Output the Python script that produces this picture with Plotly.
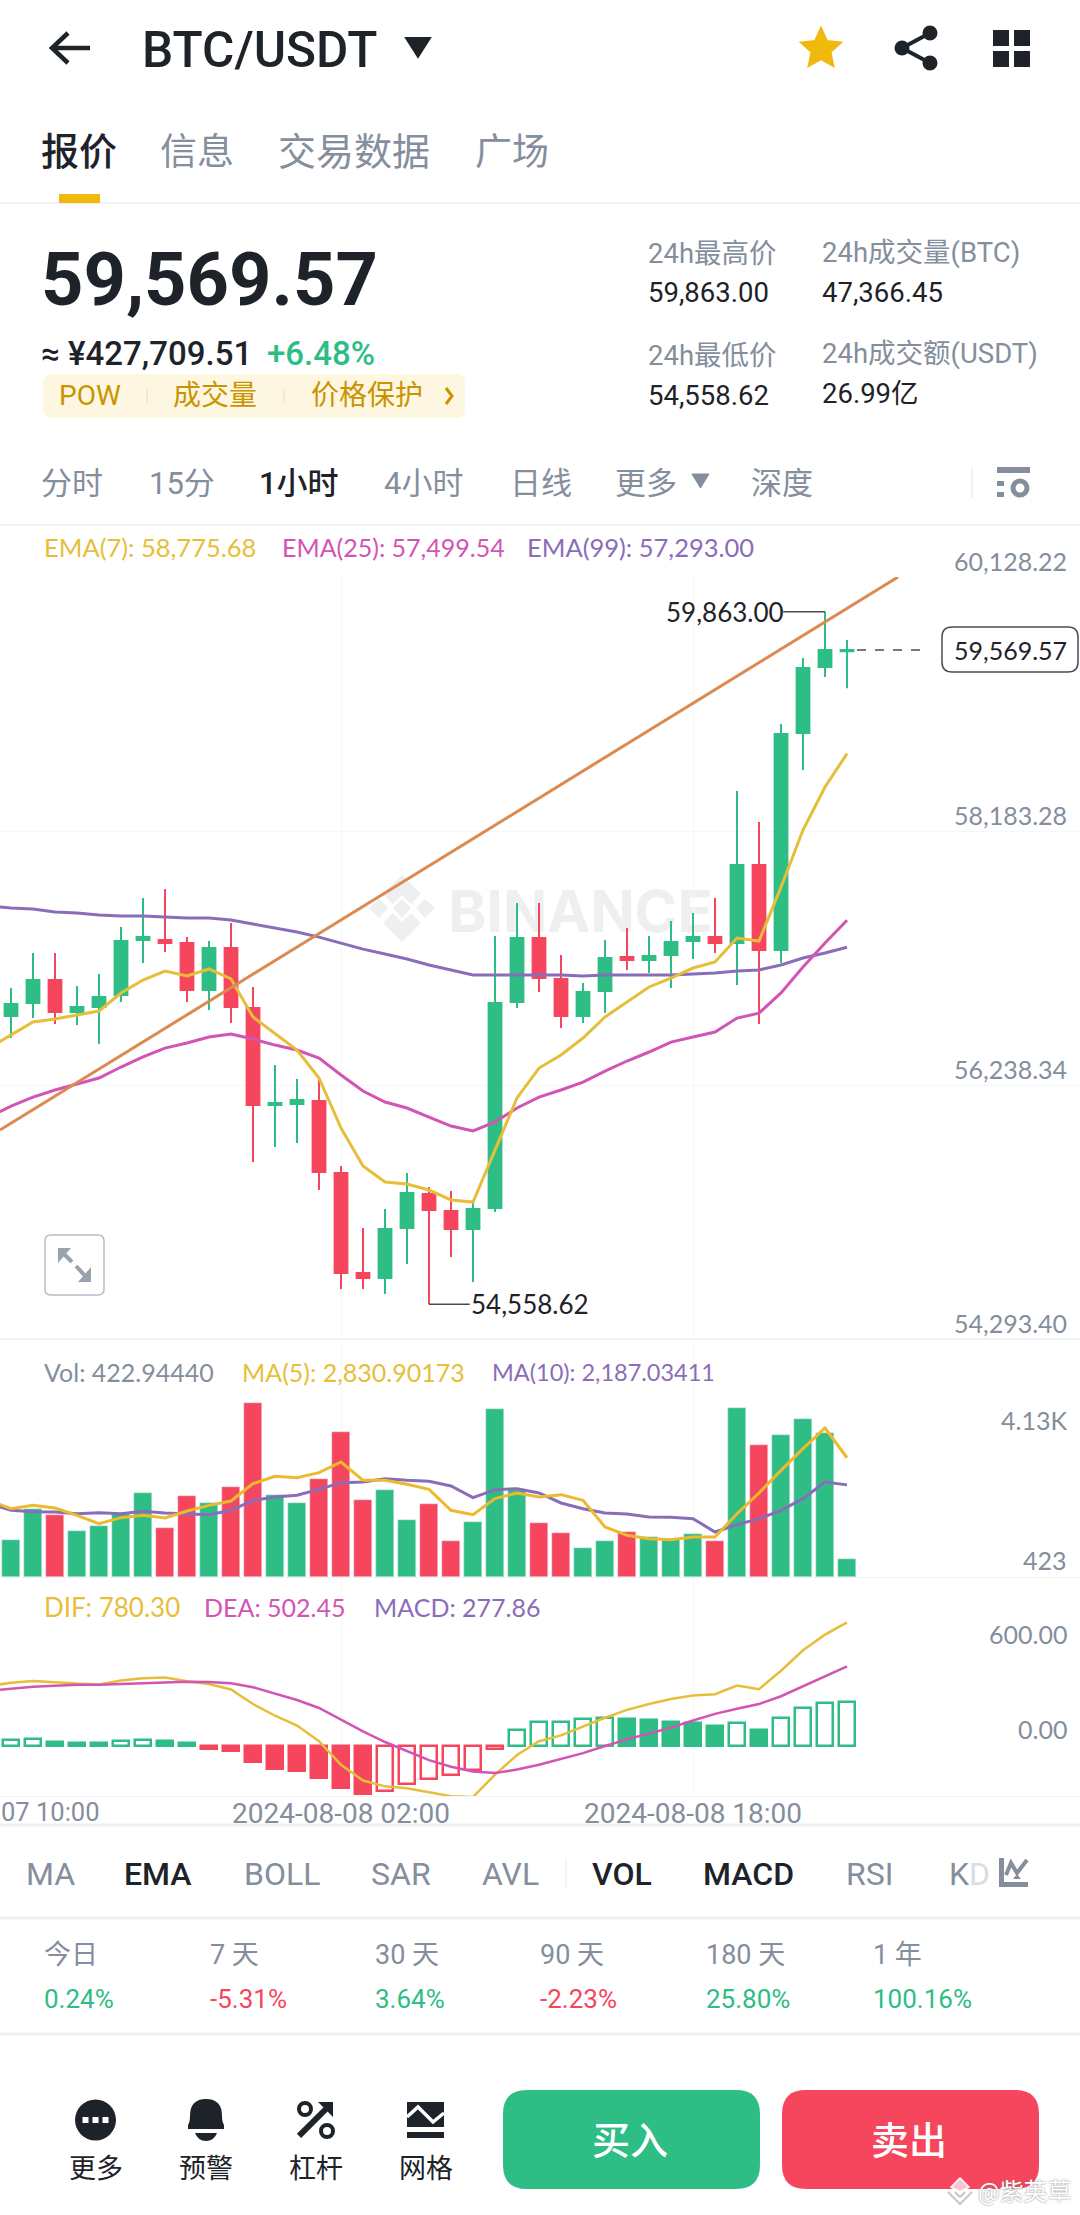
import math
import plotly.graph_objects as go
from plotly.subplots import make_subplots

# -----------------------------
# DATA
# -----------------------------
opens = [56767, 56866, 57042, 56797, 56836, 56928, 57349, 57349, 57326, 56966,
         57287, 56828, 56085, 56093, 56116, 55564, 54799, 54760, 55143, 55403,
         55273, 55136, 55296, 56874, 57364, 57050, 56767, 56958, 57219, 57196,
         57234, 57341, 57372, 57326, 57923, 57272, 58933, 59439, 59560]
highs = [56981, 57249, 57249, 56996, 57088, 57448, 57670, 57739, 57372, 57341,
         57479, 56989, 56391, 56284, 56292, 55618, 55143, 55289, 55564, 55457,
         55427, 55342, 57379, 57632, 57632, 57234, 57019, 57349, 57441, 57379,
         57494, 57555, 57670, 58489, 58252, 59002, 59508, 59863.00, 59645]
lows = [56598, 56751, 56705, 56698, 56552, 56874, 57173, 57257, 56874, 56813,
        56713, 55649, 55763, 55794, 55434, 54676, 54676, 54638, 54868, 54558.62,
        54921, 54730, 55266, 56828, 56950, 56675, 56713, 56790, 57119, 57096,
        56981, 57203, 57249, 57004, 56705, 57172, 58650, 59362, 59277]
closes = [56858, 57042, 56797, 56836, 56912, 57341, 57372, 57326, 56966, 57287,
          56836, 56085, 56100, 56123, 55572, 54799, 54760, 55136, 55411, 55281,
          55136, 55289, 56866, 57364, 57057, 56767, 56950, 57211, 57196, 57226,
          57333, 57372, 57326, 57923, 57272, 58926, 59431, 59569, 59569.57]

# line series start one candle left of the screen
ema7 = [56521, 56621, 56721, 56744, 56774, 56805, 56943, 57042, 57111, 57073,
        57127, 57050, 56759, 56636, 56506, 56292, 55909, 55618, 55495, 55480,
        55434, 55358, 55342, 55740, 56139, 56368, 56468, 56598, 56759, 56874,
        56989, 57057, 57134, 57180, 57364, 57341, 57754, 58191, 58520, 58775.68]
ema25 = [55993, 56077, 56146, 56200, 56246, 56292, 56376, 56453, 56521, 56560,
         56606, 56629, 56590, 56544, 56506, 56445, 56315, 56192, 56108, 56062,
         55993, 55924, 55886, 55955, 56062, 56146, 56200, 56261, 56345, 56422,
         56491, 56567, 56606, 56644, 56751, 56789, 56943, 57142, 57326, 57499.54]
ema99 = [57609, 57593, 57586, 57563, 57555, 57540, 57532, 57532, 57525, 57517,
         57517, 57502, 57471, 57440, 57410, 57371, 57325, 57279, 57241, 57203,
         57157, 57119, 57081, 57081, 57081, 57081, 57081, 57073, 57081, 57081,
         57081, 57081, 57088, 57096, 57111, 57119, 57157, 57211, 57249, 57293.00]
trend_x = [-0.5, 40.32]
trend_y = [55894, 60128.22]

volume = [870, 1622, 1464, 1092, 1211, 1488, 2002, 1171, 1915, 1765,
          2137, 4130, 1939, 1765, 2334, 3442, 1820, 2073, 1361, 1741,
          855, 1306, 3988, 2057, 1274, 1052, 696, 855, 1068, 950,
          894, 1021, 855, 4012, 3134, 3363, 3751, 3426, 422.94]
ma5 = [1820, 1622, 1701, 1638, 1464, 1266, 1409, 1464, 1401, 1567,
       1701, 1804, 2216, 2390, 2358, 2477, 2730, 2295, 2295, 2200,
       2081, 1583, 1480, 1860, 1994, 1899, 1955, 1820, 1187, 989,
       910, 886, 950, 950, 1503, 1994, 2532, 3047, 3537, 2830.90]
ma10 = [1741, 1583, 1551, 1543, 1503, 1527, 1503, 1559, 1519, 1503,
        1480, 1583, 1820, 1899, 1939, 2081, 2239, 2255, 2334, 2295,
        2271, 2160, 1883, 2073, 2097, 1994, 1757, 1622, 1519, 1496,
        1424, 1416, 1385, 1068, 1242, 1385, 1583, 1860, 2255, 2187.03]

hist = [35, 47, 25, 17, 17, 30, 40, 30, 17, -20,
        -32, -101, -143, -161, -205, -267, -300, -285, -238, -208,
        -181, -149, -22, 104, 149, 154, 168, 178, 171, 164,
        154, 144, 124, 144, 99, 179, 243, 272, 277.86]
dif = [379, 399, 411, 401, 394, 389, 413, 428, 433, 409,
       391, 357, 265, 191, 129, 30, -119, -218, -255, -267,
       -292, -317, -322, -181, -57, 30, 67, 124, 178, 228,
       265, 297, 319, 327, 381, 359, 475, 604, 703, 780.30]
dea = [349, 361, 374, 381, 386, 386, 391, 399, 404, 406,
       404, 396, 371, 332, 290, 240, 166, 92, 25, -32,
       -89, -131, -161, -171, -149, -119, -82, -45, 0, 42,
       79, 116, 161, 203, 235, 265, 314, 376, 438, 502.45]

price_ticks = [60128.22, 58183.28, 56238.34, 54293.40]
price_tick_text = ["60,128.22", "58,183.28", "56,238.34", "54,293.40"]
vol_ticks = [4130, 423]
vol_tick_text = ["4.13K", "423"]
macd_ticks = [600, 0]
macd_tick_text = ["600.00", "0.00"]
time_ticks = [15, 31]
time_tick_text = ["2024-08-08 02:00", "2024-08-08 18:00"]

periods = ["今日", "7 天", "30 天", "90 天", "180 天", "1 年"]
period_changes = ["0.24%", "-5.31%", "3.64%", "-2.23%", "25.80%", "100.16%"]
intervals = ["分时", "15分", "1小时", "4小时", "日线", "更多", "深度"]
indicators = ["MA", "EMA", "BOLL", "SAR", "AVL", "VOL", "MACD", "RSI"]
tools = ["更多", "预警", "杠杆", "网格"]

# -----------------------------
# COLOURS / PAGE GEOMETRY
# -----------------------------
W, H = 1080, 2215
GREEN = "#2EBD85"
RED = "#F6465D"
GOLD = "#F0B90B"
DARK = "#1E2329"
GRAY = "#848E9C"
YELLOW = "#E6BE3A"
MAGENTA = "#D254B4"
PURPLE = "#8A6DB8"
ORANGE = "#DB8A52"
LINE = "#F1F2F4"
FONT = "Roboto, 'Noto Sans CJK SC'"
CHART_FONT = "Lato, 'Noto Sans CJK SC'"

candle_x = list(range(len(closes)))
line_x = list(range(-1, len(closes)))


def fx(x):
    return x / W


def fy(y):
    return 1 - y / H


def domain(top, bottom):
    return [fy(bottom), fy(top)]


annotations = []
shapes = []


def text(s, x, y, size, color=DARK, anchor="left", family=FONT, weight=400, shadow=None):
    # annotations sit about 2px inside their anchor
    if anchor == "left":
        x -= 2
    font = dict(size=size, color=color, family=family, weight=weight)
    if shadow:
        font["shadow"] = shadow
    annotations.append(dict(text=s, x=fx(x), y=fy(y), xref="paper", yref="paper", showarrow=False,
                            xanchor=anchor, yanchor="middle", borderpad=0, font=font))


def axis_label(s, value, yref, shift, size=25, color=GRAY):
    annotations.append(dict(text=s, x=fx(1068), y=value, xref="paper", yref=yref, showarrow=False,
                            xanchor="right", yanchor="middle", yshift=shift, borderpad=0,
                            font=dict(size=size, color=color, family=CHART_FONT)))


def hline(y, color=LINE, width=2, x0=0, x1=W):
    shapes.append(dict(type="line", xref="paper", yref="paper", x0=fx(x0), x1=fx(x1), y0=fy(y), y1=fy(y),
                       line=dict(color=color, width=width), layer="below"))


def rect(x0, y0, x1, y1, color, layer="above"):
    shapes.append(dict(type="rect", xref="paper", yref="paper", x0=fx(x0), x1=fx(x1), y0=fy(y0), y1=fy(y1),
                       fillcolor=color, line=dict(width=0), layer=layer))


def circle(cx, cy, r, color, line_width=0, fill=True):
    shapes.append(dict(type="circle", xref="paper", yref="paper",
                       x0=fx(cx - r), x1=fx(cx + r), y0=fy(cy + r), y1=fy(cy - r),
                       fillcolor=color if fill else "rgba(0,0,0,0)",
                       line=dict(color=color, width=line_width)))


def path(cmds, fill=None, stroke=None, width=0, layer="above"):
    # cmds: list of (letter, x, y, ...) in page pixels
    out = []
    for c in cmds:
        if c[0] == "Z":
            out.append("Z")
            continue
        nums = []
        for k in range(1, len(c), 2):
            nums.append(f"{fx(c[k]):.5f} {fy(c[k + 1]):.5f}")
        out.append(c[0] + " " + " ".join(nums))
    shapes.append(dict(type="path", xref="paper", yref="paper", path=" ".join(out),
                       fillcolor=fill if fill else "rgba(0,0,0,0)",
                       line=dict(color=stroke if stroke else "rgba(0,0,0,0)", width=width), layer=layer))


def rrect(x0, y0, x1, y1, r, fill=None, stroke=None, width=0, layer="above"):
    path([("M", x0 + r, y0), ("L", x1 - r, y0), ("Q", x1, y0, x1, y0 + r), ("L", x1, y1 - r),
          ("Q", x1, y1, x1 - r, y1), ("L", x0 + r, y1), ("Q", x0, y1, x0, y1 - r), ("L", x0, y0 + r),
          ("Q", x0, y0, x0 + r, y0), ("Z",)], fill, stroke, width, layer)


# -----------------------------
# CHART PANES
# -----------------------------
fig = make_subplots(rows=3, cols=1, shared_xaxes=True, vertical_spacing=0)

fig.add_trace(go.Candlestick(
    x=candle_x, open=opens, high=highs, low=lows, close=closes,
    increasing=dict(line=dict(color=GREEN, width=2), fillcolor=GREEN),
    decreasing=dict(line=dict(color=RED, width=2), fillcolor=RED),
    whiskerwidth=0, hoverinfo="skip"), row=1, col=1)

for series, color in [(ema99, PURPLE), (ema25, MAGENTA), (ema7, YELLOW)]:
    fig.add_trace(go.Scatter(x=line_x, y=series, mode="lines", line=dict(color=color, width=3)), row=1, col=1)
fig.add_trace(go.Scatter(x=trend_x, y=trend_y, mode="lines", line=dict(color=ORANGE, width=3)), row=1, col=1)

# volume, coloured like the candle above it
vol_colors = [GREEN if c >= o else RED for o, c in zip(opens, closes)]
fig.add_trace(go.Bar(x=candle_x, y=volume, marker_color=vol_colors, width=0.86), row=2, col=1)
fig.add_trace(go.Scatter(x=line_x, y=ma10, mode="lines", line=dict(color=PURPLE, width=3)), row=2, col=1)
fig.add_trace(go.Scatter(x=line_x, y=ma5, mode="lines", line=dict(color="#EDB92E", width=3)), row=2, col=1)

# MACD bars are hollow when the value rises, solid when it falls
hist_line = [GREEN if v >= 0 else RED for v in hist]
hist_fill = []
for i, v in enumerate(hist):
    prev = hist[i - 1] if i else 0
    hist_fill.append("rgba(0,0,0,0)" if v > prev else hist_line[i])
fig.add_trace(go.Bar(x=candle_x, y=hist, width=0.77,
                     marker=dict(color=hist_fill, line=dict(color=hist_line, width=2.5))), row=3, col=1)
fig.add_trace(go.Scatter(x=line_x, y=dif, mode="lines", line=dict(color=YELLOW, width=2.5)), row=3, col=1)
fig.add_trace(go.Scatter(x=line_x, y=dea, mode="lines", line=dict(color=MAGENTA, width=2.5)), row=3, col=1)

# -----------------------------
# CHART ANNOTATIONS
# -----------------------------
for s, v in zip(price_tick_text, price_ticks):
    axis_label(s, v, "y", 16)
axis_label(vol_tick_text[0], vol_ticks[0], "y2", -17)
axis_label(vol_tick_text[1], vol_ticks[1], "y2", -1)
for s, v in zip(macd_tick_text, macd_ticks):
    axis_label(s, v, "y3", 17)

text("07 10:00", 2, 1812, 25.5, GRAY, family=FONT)

# last price box and dashed line
last_price = closes[-1]
shapes.append(dict(type="line", xref="paper", yref="y", x0=fx(857), x1=fx(928), y0=last_price, y1=last_price,
                   line=dict(color="#474D57", width=1.5, dash="dash")))
rrect(942, 627, 1078, 672, 10, "#FFFFFF", "#474D57", 1.5)
axis_label("59,569.57", last_price, "y", 0, color=DARK)

# high / low call-outs
hi_i = highs.index(max(highs))
lo_i = lows.index(min(lows))
shapes.append(dict(type="line", xref="x", yref="y", x0=hi_i, x1=hi_i - 1.9, y0=highs[hi_i], y1=highs[hi_i],
                   line=dict(color="#474D57", width=1.5)))
shapes.append(dict(type="line", xref="x", yref="y", x0=lo_i, x1=lo_i + 1.85, y0=lows[lo_i], y1=lows[lo_i],
                   line=dict(color="#474D57", width=1.5)))
annotations.append(dict(text=f"{highs[hi_i]:,.2f}", x=hi_i - 1.8, y=highs[hi_i], xref="x", yref="y", showarrow=False,
                        xanchor="right", yanchor="middle", borderpad=0,
                        font=dict(size=26, color=DARK, family=CHART_FONT)))
annotations.append(dict(text=f"{lows[lo_i]:,.2f}", x=lo_i + 1.85, y=lows[lo_i], xref="x", yref="y", showarrow=False,
                        xanchor="left", yanchor="middle", borderpad=0,
                        font=dict(size=26, color=DARK, family=CHART_FONT)))

# watermark sits under the candles
wm = "#EDEFF0"
path([("M", 402, 875), ("L", 421, 894), ("L", 411, 904), ("L", 402, 895), ("L", 393, 904), ("L", 383, 894), ("Z",)], wm, layer="below")
path([("M", 402, 942), ("L", 421, 923), ("L", 411, 913), ("L", 402, 922), ("L", 393, 913), ("L", 383, 923), ("Z",)], wm, layer="below")
path([("M", 402, 899), ("L", 411, 908), ("L", 402, 918), ("L", 393, 908), ("Z",)], wm, layer="below")
path([("M", 425, 899), ("L", 435, 908), ("L", 425, 918), ("L", 416, 908), ("Z",)], wm, layer="below")
path([("M", 379, 899), ("L", 388, 908), ("L", 379, 918), ("L", 369, 908), ("Z",)], wm, layer="below")
shapes.append(dict(type="rect", xref="paper", yref="paper", x0=fx(445), x1=fx(716), y0=fy(940), y1=fy(878),
                   line=dict(width=0), fillcolor="rgba(0,0,0,0)", layer="below",
                   label=dict(text="BINANCE", font=dict(size=58, color=wm, family="Inter", weight=700),
                              textposition="middle center")))

# expand button
rrect(45, 1235, 104, 1295, 6, "#FFFFFF", "#B7BDC6", 1.5)
path([("M", 58, 1248), ("L", 71, 1248), ("L", 58, 1263), ("Z",)], "#9AA2AE")
path([("M", 91, 1282), ("L", 78, 1282), ("L", 91, 1267), ("Z",)], "#9AA2AE")
path([("M", 62, 1252), ("L", 72, 1262)], None, "#9AA2AE", 4)
path([("M", 87, 1278), ("L", 76, 1266)], None, "#9AA2AE", 4)

# legends
text("EMA(7): 58,775.68", 45, 547, 25.5, YELLOW, family=CHART_FONT)
text("EMA(25): 57,499.54", 283, 547, 25, MAGENTA, family=CHART_FONT)
text("EMA(99): 57,293.00", 528, 547, 25.5, PURPLE, family=CHART_FONT)
text("Vol: 422.94440", 45, 1372, 25, GRAY, family=CHART_FONT)
text("MA(5): 2,830.90173", 243, 1372, 25, YELLOW, family=CHART_FONT)
text("MA(10): 2,187.03411", 493, 1372, 23.5, PURPLE, family=CHART_FONT)
text("DIF: 780.30", 45, 1607, 26, YELLOW, family=CHART_FONT)
text("DEA: 502.45", 205, 1607, 25, MAGENTA, family=CHART_FONT)
text("MACD: 277.86", 375, 1607, 25, PURPLE, family=CHART_FONT)

# -----------------------------
# HEADER
# -----------------------------
path([("M", 52, 48), ("L", 90, 48)], None, DARK, 4.5)
path([("M", 68, 33), ("L", 52, 48), ("L", 68, 63)], None, DARK, 4.5)
text("BTC/USDT", 143, 50, 49.5, DARK, weight=500)
path([("M", 406, 38), ("L", 430, 38), ("L", 418, 57), ("Z",)], DARK, DARK, 2)

star = []
for k in range(10):
    r = 21 if k % 2 == 0 else 10
    a = -math.pi / 2 + k * math.pi / 5
    star.append(("M" if k == 0 else "L", 821 + r * math.cos(a), 49 + r * math.sin(a)))
path(star + [("Z",)], GOLD, GOLD, 2)

path([("M", 930, 33), ("L", 902, 48), ("L", 930, 63)], None, DARK, 4)
circle(930, 33, 7.5, DARK)
circle(902, 48, 7.5, DARK)
circle(930, 63, 7.5, DARK)
for x0, y0 in [(993, 30), (1014, 30), (993, 51), (1014, 51)]:
    rect(x0, y0, x0 + 16, y0 + 16, DARK)

text("报价", 42, 152, 38, DARK, weight=500)
text("信息", 161, 152, 37, GRAY)
text("交易数据", 279, 152, 38, GRAY)
text("广场", 476, 152, 37, GRAY)
rect(59, 194, 100, 203, GOLD)
hline(203)

text("59,569.57", 42, 279, 74, DARK, weight=700)
text("≈ ¥427,709.51", 42, 353, 33, DARK, weight=500)
text("+6.48%", 268, 353, 33, GREEN, weight=500)
rrect(43, 374, 465, 418, 9, "#FDF6E0")
text("POW", 60, 396, 28, "#C99400")
text("成交量", 174, 396, 28, "#C99400")
text("价格保护", 312, 396, 28, "#C99400")
rect(146.5, 389, 148, 403, "#F3E6B8")
rect(283.5, 389, 285, 403, "#F3E6B8")
path([("M", 446, 388), ("L", 452, 396), ("L", 446, 404)], None, "#C99400", 3)

text("24h最高价", 649, 253, 27.5, GRAY)
text("24h成交量(BTC)", 823, 252, 27.5, GRAY)
text("59,863.00", 649, 293, 27.5, DARK)
text("47,366.45", 823, 292, 27.5, DARK)
text("24h最低价", 649, 355, 27.5, GRAY)
text("24h成交额(USDT)", 823, 354, 27.5, GRAY)
text("54,558.62", 649, 396, 27.5, DARK)
text("26.99亿", 823, 393, 27.5, DARK)

# interval row
interval_x = [42, 150, 260, 385, 511, 616, 752]
for s, x in zip(intervals, interval_x):
    active = s == "1小时"
    text(s, x, 483, 31, DARK if active else GRAY, weight=500 if active else 400)
path([("M", 692, 474), ("L", 709, 474), ("L", 700.5, 488), ("Z",)], GRAY, GRAY, 1)
rect(971, 467, 973, 498, LINE)
rect(997, 467, 1030, 473, GRAY)
rect(997, 481, 1004, 486, GRAY)
rect(997, 492, 1004, 497, GRAY)
circle(1020, 488, 7, GRAY, 5, fill=False)
hline(525)
hline(1339)

# -----------------------------
# BOTTOM OF PAGE
# -----------------------------
hline(1825, "#EFF0F2", 3)
indicator_x = [27, 125, 245, 372, 483, 593, 704, 847]
for s, x in zip(indicators, indicator_x):
    on = s in ("EMA", "VOL", "MACD")
    text(s, x, 1874, 32, DARK if on else GRAY, weight=500 if on else 400)
# the KD label fades out under the icon
text('K<span style="color:#D9DCE0">D</span>', 950, 1874, 32, GRAY)
rect(565, 1858, 566.5, 1888, LINE)
path([("M", 1001.5, 1858), ("L", 1001.5, 1884.5), ("L", 1028, 1884.5)], None, GRAY, 5)
path([("M", 1006, 1875), ("L", 1011, 1863), ("L", 1017, 1873), ("L", 1027, 1860)], None, GRAY, 4)
path([("M", 1013, 1879), ("L", 1017, 1874), ("L", 1021, 1879), ("Z",)], GRAY)
hline(1918, "#EFF0F2", 3)

period_x = [45, 211, 376, 541, 707, 874]
for s, v, x in zip(periods, period_changes, period_x):
    text(s, x, 1955, 27, GRAY)
    text(v, x, 1999, 26, RED if v.startswith("-") else GREEN)
hline(2034, "#EFF0F2", 3)

# tool icons
circle(95.5, 2120, 20.5, DARK)
for dx in (-10, 0, 10):
    rect(95.5 + dx - 3, 2117, 95.5 + dx + 3, 2123, "#FFFFFF")
path([("M", 188, 2129), ("L", 188, 2125), ("Q", 190, 2122, 190, 2116), ("Q", 190, 2099, 206, 2099),
      ("Q", 222, 2099, 222, 2116), ("Q", 222, 2122, 224, 2125), ("L", 224, 2129), ("Z",)], DARK)
path([("M", 195, 2133), ("L", 217, 2133), ("Q", 214, 2141, 206, 2141), ("Q", 198, 2141, 195, 2133), ("Z",)], DARK)
path([("M", 299, 2136), ("L", 328, 2107)], None, DARK, 6)
path([("M", 318, 2102), ("L", 333, 2102), ("L", 333, 2117), ("Z",)], DARK)
circle(305, 2109, 6, DARK, 4, fill=False)
circle(327, 2131, 6, DARK, 4, fill=False)
rect(407, 2102, 444, 2127, DARK)
path([("M", 407, 2117), ("L", 418, 2107), ("L", 433, 2122), ("L", 444, 2113)], None, "#FFFFFF", 3.5)
rect(407, 2132, 444, 2138, DARK)
for s, x in zip(tools, [96, 206, 316, 426]):
    text(s, x, 2169, 27, DARK, anchor="center")

rrect(503, 2090, 760, 2189, 24, GREEN)
rrect(782, 2090, 1039, 2189, 24, RED)
text("买入", 630, 2141, 38, "#FFFFFF", anchor="center", weight=500)
text("卖出", 909, 2141, 38, "#FFFFFF", anchor="center", weight=500)

# repost watermark, white with a grey edge
path([("M", 960, 2178), ("L", 969, 2187), ("L", 960, 2192), ("L", 951, 2187), ("Z",)], "#F7C6CC", "#FFFFFF", 1.5)
path([("M", 948, 2192), ("L", 960, 2204), ("L", 972, 2192)], None, "#C4C7CB", 2)
path([("M", 955, 2192), ("L", 960, 2197), ("L", 965, 2192)], None, "#C4C7CB", 2)
text("@紫英草", 979, 2192, 24, "#FFFFFF", shadow="0 0 2px #777777")

# -----------------------------
# LAYOUT
# -----------------------------
fig.update_layout(
    width=W, height=H,
    margin=dict(l=0, r=0, t=0, b=0),
    paper_bgcolor="#FFFFFF", plot_bgcolor="#FFFFFF",
    showlegend=False, bargap=0, boxgap=0.17, boxmode="overlay",
    annotations=annotations, shapes=shapes,
    xaxis_rangeslider_visible=False,
    yaxis=dict(domain=domain(577, 1339), range=[54293.40, 60128.22], tickvals=price_ticks,
               showticklabels=False, gridcolor="#F6F7F8", gridwidth=1, zeroline=False),
    yaxis2=dict(domain=domain(1339, 1577), range=[0, 5650], showticklabels=False, showgrid=False,
                zeroline=False),
    yaxis3=dict(domain=domain(1577, 1796), range=[-315.8, 1067], showticklabels=False, showgrid=False,
                zeroline=False),
)
fig.update_xaxes(range=[-0.5, 48.59], tickvals=time_ticks, ticktext=time_tick_text, showgrid=True,
                 gridcolor="#F6F7F8", gridwidth=1, zeroline=False, showline=True, linecolor="#F1F2F4", linewidth=1,
                 ticks="", ticklabelstandoff=-8, tickfont=dict(size=28, color=GRAY, family=FONT))

fig.write_html("out.html", config={"displayModeBar": False}, post_script="document.body.style.margin='0';")
